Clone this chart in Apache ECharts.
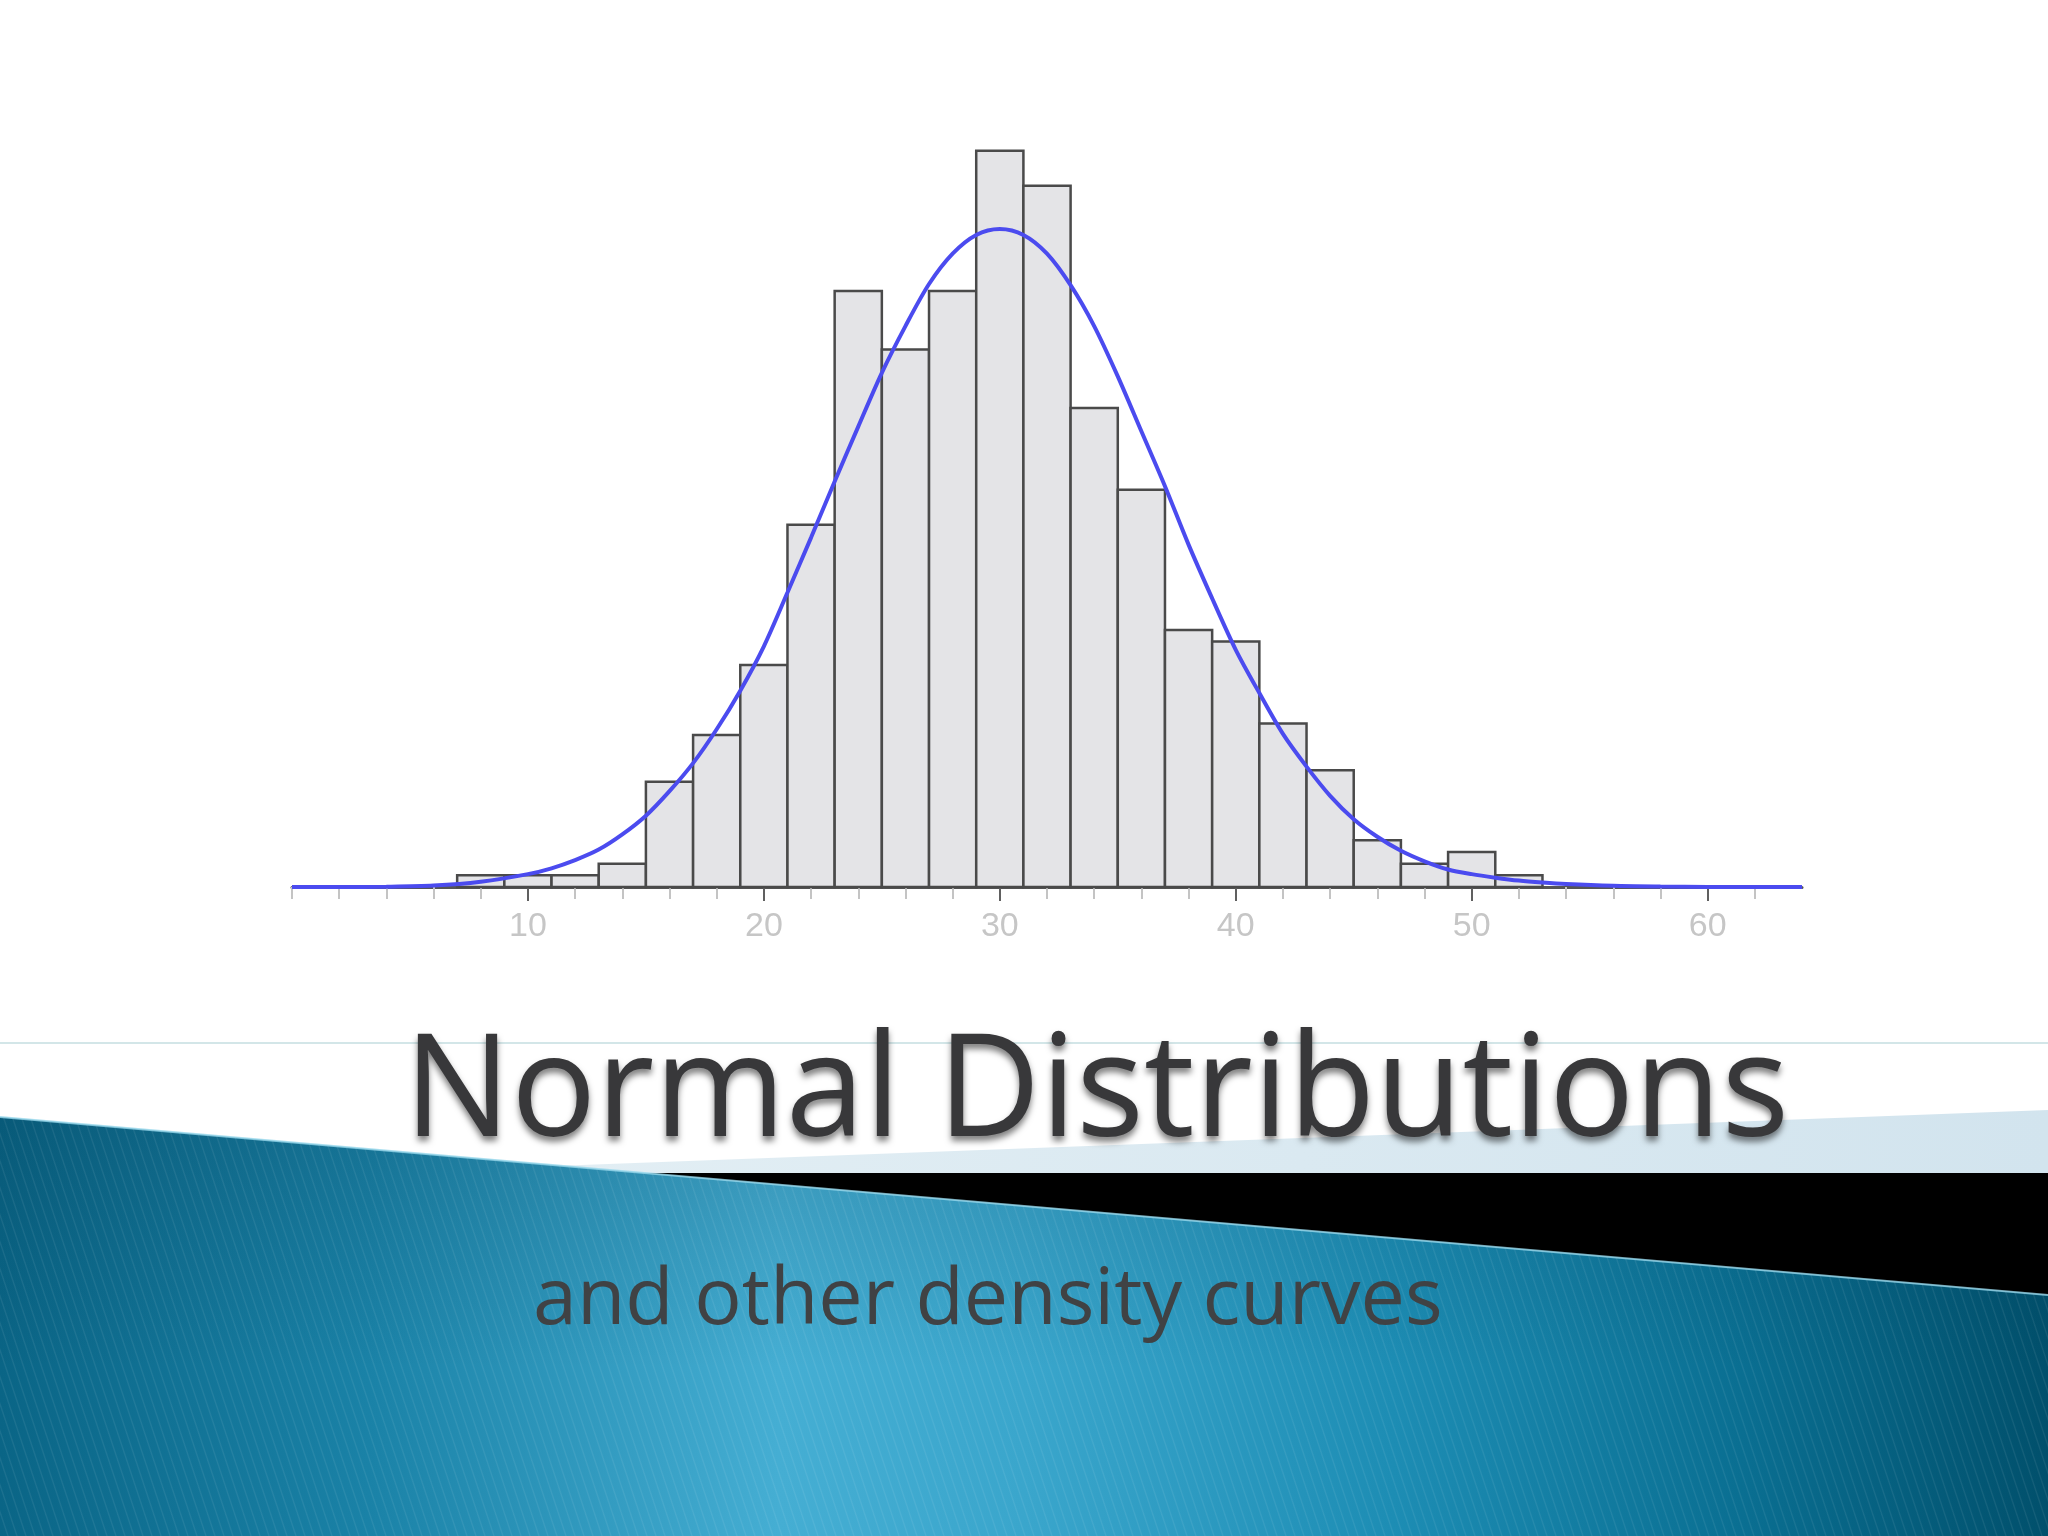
<!DOCTYPE html>
<html>
<head>
<meta charset="utf-8">
<script src="https://cdn.jsdelivr.net/npm/echarts@6/dist/echarts.min.js"></script>
<style>
  html, body { margin: 0; padding: 0; background: #ffffff; }
  #chart { width: 2048px; height: 1536px; }
</style>
</head>
<body>
<div id="chart"></div>
<script>
// ---- data ----
const binWidth = 2;
const binStarts = [7, 9, 11, 13, 15, 17, 19, 21, 23, 25, 27, 29, 31, 33, 35, 37, 39, 41, 43, 45, 47, 49, 51];
const counts    = [1, 1, 1, 2, 9, 13, 19, 31, 51, 46, 51, 63, 60, 41, 34, 22, 21, 14, 10, 4, 2, 3, 1];

// fitted density curve (same units as counts)
const curveX = [0, 2, 4, 6, 8, 10, 11, 12, 13, 14, 15, 16, 17, 18, 19, 20, 21, 22, 23, 24, 25, 26, 27, 28, 29, 30,
                31, 32, 33, 34, 35, 36, 37, 38, 39, 40, 41, 42, 43, 44, 45, 46, 47, 48, 49, 50, 51, 52, 53, 54, 56, 58, 60, 64];
const curveY = [0, 0, 0.02, 0.12, 0.45, 1.1, 1.6, 2.3, 3.2, 4.5, 6.1, 8.2, 10.6, 13.5, 16.8, 20.6, 25.2, 29.9, 34.7, 39.4, 44.0, 48.0, 51.6, 54.2, 55.8, 56.3,
                55.8, 54.2, 51.5, 48.0, 43.7, 39.0, 34.3, 29.3, 24.7, 20.3, 16.6, 13.1, 10.3, 7.8, 5.8, 4.3, 3.1, 2.2, 1.5, 1.1, 0.8, 0.55, 0.38, 0.25, 0.1, 0.04, 0.01, 0];

const minorTicks = [0, 2, 4, 6, 8, 10, 12, 14, 16, 18, 20, 22, 24, 26, 28, 30, 32, 34, 36, 38, 40, 42, 44, 46, 48, 50, 52, 54, 56, 58, 60, 62];
const majorTicks = [10, 20, 30, 40, 50, 60];

const titleText = 'Normal Distributions';
const subtitleText = 'and other density curves';

// ---- stripe texture for the teal band ----
function makeStripes() {
  const c = document.createElement('canvas');
  c.width = 9; c.height = 27;
  const g = c.getContext('2d');
  g.strokeStyle = 'rgba(255,255,255,0.07)';
  g.lineWidth = 1.4;
  [[-9, 0], [0, 0], [9, 0]].forEach(function (o) {
    g.beginPath(); g.moveTo(o[0], 0); g.lineTo(o[0] + 9, 27); g.stroke();
  });
  return c;
}

// ---- chart ----
const chart = echarts.init(document.getElementById('chart'));

const histData = binStarts.map((s, i) => [s, s + binWidth, counts[i]]);
const curveData = curveX.map((x, i) => [x, curveY[i]]);
const tealPoints = [[0, 1117], [2048, 1295], [2048, 1536], [0, 1536]];

const option = {
  backgroundColor: '#ffffff',
  animation: false,
  grid: { left: 292, right: 246, top: 69, bottom: 649, containLabel: false, outerBoundsMode: 'none' },
  xAxis: [
    {
      type: 'value', min: 0, max: 64,
      axisLine: { show: true, lineStyle: { color: '#555555', width: 3 } },
      axisTick: { show: true, customValues: minorTicks, length: 12, lineStyle: { color: '#c4c4c4', width: 2 } },
      axisLabel: { show: false },
      splitLine: { show: false }
    },
    {
      type: 'value', min: 0, max: 64, position: 'bottom', offset: 0,
      axisLine: { show: false },
      axisTick: { show: true, customValues: majorTicks, length: 14, lineStyle: { color: '#606060', width: 2 } },
      axisLabel: { show: true, customValues: majorTicks, margin: 23, color: '#c6c6c6', fontSize: 34, fontFamily: 'Liberation Sans' },
      splitLine: { show: false }
    }
  ],
  yAxis: { type: 'value', min: 0, max: 70, show: false },
  series: [
    {
      type: 'custom',
      name: 'histogram',
      xAxisIndex: 0,
      data: histData,
      encode: { x: [0, 1], y: 2 },
      renderItem: function (params, api) {
        const x0 = api.value(0), x1 = api.value(1), c = api.value(2);
        const pTop = api.coord([x0, c]);
        const pBot = api.coord([x1, 0]);
        return {
          type: 'rect',
          shape: { x: pTop[0], y: pTop[1], width: pBot[0] - pTop[0], height: pBot[1] - pTop[1] },
          style: { fill: '#e4e4e7', stroke: '#4a4a4a', lineWidth: 2.5 }
        };
      },
      z: 2
    },
    {
      type: 'line',
      name: 'density',
      xAxisIndex: 0,
      data: curveData,
      smooth: 0.3,
      showSymbol: false,
      lineStyle: { color: '#4b4bef', width: 4 },
      z: 3
    }
  ],
  graphic: [
    { type: 'line', silent: true, z: -5,
      shape: { x1: 0, y1: 1043, x2: 2048, y2: 1043 },
      style: { stroke: '#d3e6e8', lineWidth: 2 } },
    { type: 'polygon', silent: true, z: -4,
      shape: { points: [[555, 1166], [2048, 1110], [2048, 1173], [644, 1173]] },
      style: { fill: new echarts.graphic.LinearGradient(0, 0, 1, 0, [
        { offset: 0, color: '#e2eef4' }, { offset: 1, color: '#d2e4ee' }]) } },
    { type: 'polygon', silent: true, z: -4,
      shape: { points: [[644, 1173], [2048, 1173], [2048, 1295]] },
      style: { fill: '#000000' } },
    { type: 'polygon', silent: true, z: -3,
      shape: { points: tealPoints },
      style: { fill: new echarts.graphic.LinearGradient(0, 0, 1, 0, [
        { offset: 0, color: '#0a6586' },
        { offset: 0.18, color: '#1a82a7' },
        { offset: 0.38, color: '#45aed3' },
        { offset: 0.5, color: '#3aa6cc' },
        { offset: 0.68, color: '#1d8db4' },
        { offset: 0.85, color: '#0a6f92' },
        { offset: 1, color: '#01506c' }]) } },
    { type: 'polygon', silent: true, z: -3,
      shape: { points: tealPoints },
      style: { fill: new echarts.graphic.LinearGradient(0, 0, 0, 1, [
        { offset: 0, color: 'rgba(0,40,60,0.18)' },
        { offset: 0.6, color: 'rgba(0,40,60,0.0)' },
        { offset: 1, color: 'rgba(0,40,60,0.0)' }]) } },
    { type: 'polygon', silent: true, z: -2,
      shape: { points: tealPoints },
      style: { fill: { image: makeStripes(), repeat: 'repeat' } } },
    { type: 'polyline', silent: true, z: -1,
      shape: { points: [[0, 1117], [2048, 1295]] },
      style: { stroke: 'rgba(150,215,235,0.8)', lineWidth: 2 } },
    { type: 'text', silent: true, z: 10,
      x: 404, y: 1096,
      style: { text: titleText, fontFamily: 'Open Sans', fontSize: 142, fill: '#38383a',
               verticalAlign: 'middle', align: 'left',
               textShadowColor: 'rgba(0,0,0,0.5)', textShadowBlur: 6, textShadowOffsetY: 5 } },
    { type: 'text', silent: true, z: 10,
      x: 533, y: 1301,
      style: { text: subtitleText, fontFamily: 'Open Sans', fontSize: 79, fill: '#404244',
               verticalAlign: 'middle', align: 'left' } }
  ]
};

chart.setOption(option);
</script>
</body>
</html>
